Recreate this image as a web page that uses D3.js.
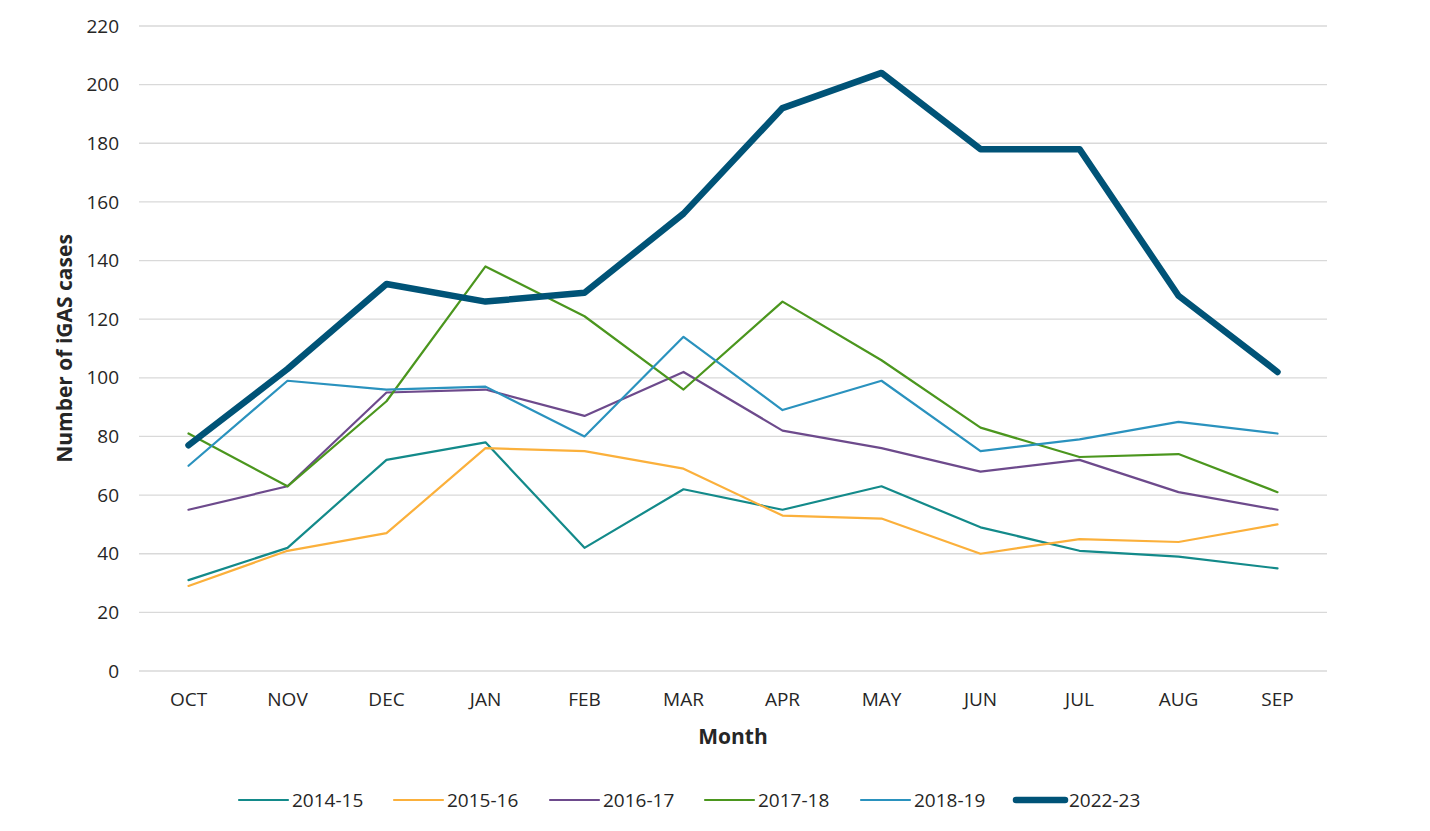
<!DOCTYPE html>
<html>
<head>
<meta charset="utf-8">
<script src="https://cdn.jsdelivr.net/npm/d3@7"></script>
<style>
  body { margin: 0; background: #fff; }
  text { font-family: "Open Sans", "Noto Sans", sans-serif; fill: #262626; }
</style>
</head>
<body>
<script>
// months of the season, Oct to Sep
const months = ["OCT","NOV","DEC","JAN","FEB","MAR","APR","MAY","JUN","JUL","AUG","SEP"];
const yTicks = [0,20,40,60,80,100,120,140,160,180,200,220];

const s2014 = [31,42,72,78,42,62,55,63,49,41,39,35];
const s2015 = [29,41,47,76,75,69,53,52,40,45,44,50];
const s2016 = [55,63,95,96,87,102,82,76,68,72,61,55];
const s2017 = [81,63,92,138,121,96,126,106,83,73,74,61];
const s2018 = [70,99,96,97,80,114,89,99,75,79,85,81];
const s2022 = [77,103,132,126,129,156,192,204,178,178,128,102];

const seasons = ["2014-15","2015-16","2016-17","2017-18","2018-19","2022-23"];
const seriesValues = [s2014, s2015, s2016, s2017, s2018, s2022];
const colors = ["#138a8a","#fbb03b","#6d4a8c","#4b961e","#2a92be","#005377"];
const widths = [2.2,2.2,2.2,2.2,2.2,6.5];

const W = 1430, H = 831;
const margin = {top: 26, right: 103, bottom: 160, left: 139};

const svg = d3.select("body").append("svg")
  .attr("width", W)
  .attr("height", H);

const x = d3.scaleBand()
  .domain(months)
  .range([margin.left, W - margin.right]);

const y = d3.scaleLinear()
  .domain([0, 220])
  .range([H - margin.bottom, margin.top]);

// gridlines
svg.append("g")
  .selectAll("line")
  .data(yTicks)
  .join("line")
  .attr("x1", margin.left)
  .attr("x2", W - margin.right)
  .attr("y1", d => y(d))
  .attr("y2", d => y(d))
  .attr("stroke", "#d9d9d9")
  .attr("stroke-width", 1.3);

// y axis labels
const yAxis = svg.append("g")
  .attr("transform", `translate(${margin.left},0)`)
  .call(d3.axisLeft(y).tickValues(yTicks).tickSize(0).tickPadding(20));
yAxis.select(".domain").remove();
yAxis.selectAll("text").style("font-size", "19px").attr("fill", "#262626");

// x axis labels
const xAxis = svg.append("g")
  .attr("transform", `translate(0,${H - margin.bottom})`)
  .call(d3.axisBottom(x).tickSize(0).tickPadding(22));
xAxis.select(".domain").remove();
xAxis.selectAll("text").style("font-size", "19px").attr("fill", "#262626");

// axis titles
svg.append("text")
  .attr("x", x.range()[0] + (x.range()[1] - x.range()[0]) / 2)
  .attr("y", 744)
  .attr("text-anchor", "middle")
  .style("font-size", "21px")
  .style("font-weight", "bold")
  .text("Month");

svg.append("text")
  .attr("transform", `translate(72,${y(110)}) rotate(-90)`)
  .attr("text-anchor", "middle")
  .style("font-size", "21px")
  .style("font-weight", "bold")
  .text("Number of iGAS cases");

// lines
const line = d3.line()
  .x((d, i) => x(months[i]) + x.bandwidth() / 2)
  .y(d => y(d));

seriesValues.forEach((vals, i) => {
  svg.append("path")
    .datum(vals)
    .attr("d", line)
    .attr("fill", "none")
    .attr("stroke", colors[i])
    .attr("stroke-width", widths[i])
    .attr("stroke-linejoin", "round")
    .attr("stroke-linecap", "round");
});

// legend
const legendX = [239, 394, 550, 705, 861, 1016];
const lg = svg.append("g");
seasons.forEach((s, i) => {
  lg.append("line")
    .attr("x1", legendX[i])
    .attr("x2", legendX[i] + 49)
    .attr("y1", 800)
    .attr("y2", 800)
    .attr("stroke", colors[i])
    .attr("stroke-width", widths[i])
    .attr("stroke-linecap", "round");
  lg.append("text")
    .attr("x", legendX[i] + 53)
    .attr("y", 807)
    .style("font-size", "19px")
    .text(s);
});
</script>
</body>
</html>
